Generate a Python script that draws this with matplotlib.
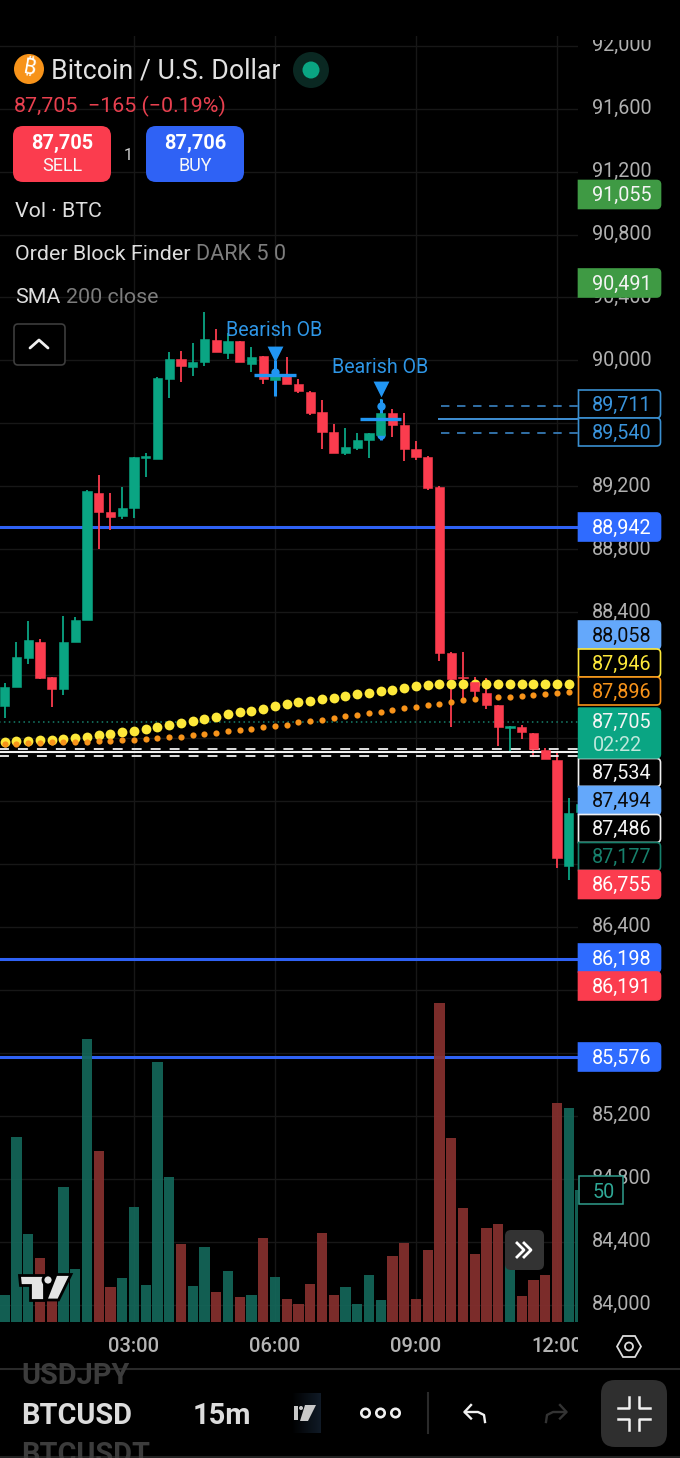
import numpy as np
import matplotlib
matplotlib.use('Agg')
import matplotlib.pyplot as plt
from matplotlib.patches import Circle, FancyBboxPatch, PathPatch, Polygon, Rectangle
from matplotlib.path import Path
from matplotlib.transforms import ScaledTranslation

plt.rcParams['font.family'] = ['Roboto', 'DejaVu Sans']

# bar 0 is 03:00, 15 minute bars
bars = np.arange(-11, 39)
opens = [87805, 87926, 88110, 88211, 87989, 87913, 88211, 88351, 89158, 89037,
         89012, 89063, 89380, 89374, 89882, 90009, 89958, 89990, 90130, 90047,
         90123, 89977, 90028, 89876, 89901, 89850, 89799, 89672, 89545, 89412,
         89444, 89494, 89526, 89666, 89590, 89437, 89386, 89196, 88142, 87989,
         87957, 87887, 87811, 87668, 87671, 87633, 87525, 87462, 86789, 87132]
highs = [87951, 88211, 88345, 88230, 87989, 88377, 88370, 89177, 89272, 89158,
         89196, 89386, 89412, 89895, 90053, 90060, 90111, 90308, 90200, 90174,
         90123, 90085, 90028, 89971, 90022, 89882, 89806, 89749, 89596, 89571,
         89539, 89539, 89755, 89691, 89666, 89488, 89393, 89202, 88148, 88148,
         87989, 87983, 87811, 87675, 87684, 87633, 87538, 87513, 87220, 87182]
lows = [87729, 87926, 88072, 87976, 87798, 87875, 88211, 88351, 88802, 88923,
        88993, 88999, 89259, 89374, 89761, 89863, 89901, 89965, 90053, 90009,
        89990, 89926, 89850, 89774, 89850, 89793, 89653, 89437, 89412, 89399,
        89431, 89380, 89494, 89514, 89361, 89367, 89177, 88091, 87671, 87824,
        87830, 87786, 87551, 87513, 87595, 87481, 87468, 86776, 86700, 87132]
closes = [87926, 88116, 88224, 87983, 87913, 88211, 88351, 89171, 89037, 89005,
          89063, 89386, 89393, 89888, 90009, 89965, 89990, 90136, 90053, 90123,
          89990, 90022, 89882, 89907, 89850, 89806, 89666, 89545, 89412, 89450,
          89494, 89539, 89666, 89590, 89437, 89386, 89190, 88142, 87976, 87983,
          87900, 87811, 87671, 87675, 87640, 87532, 87468, 86839, 87125, 87182]
volumes = [10.3, 70.4, 33.4, 24.4, 10.6, 51.3, 20.1, 107.5, 65.1, 13.3,
           16.8, 43.7, 13.9, 98.7, 55.2, 29.8, 13.6, 28.4, 11.5, 19.5,
           9.6, 10.3, 31.8, 17.2, 8.9, 6.7, 14.6, 33.8, 10.1, 13.3,
           6.7, 18.0, 8.4, 25.0, 30.1, 8.9, 27.5, 121.2, 69.9, 43.4,
           25.7, 35.8, 37.2, 25.8, 9.8, 15.8, 17.9, 83.1, 81.4, 50.0]
sma_bars = np.arange(-11, 38)
sma_yellow = [87578, 87583, 87584, 87589, 87591, 87595, 87600, 87608, 87621, 87629,
              87638, 87646, 87659, 87671, 87684, 87697, 87710, 87724, 87735, 87751,
              87765, 87775, 87786, 87803, 87816, 87828, 87837, 87847, 87858, 87868,
              87879, 87889, 87898, 87908, 87919, 87932, 87938, 87943, 87945, 87945,
              87946, 87946, 87947, 87947, 87946, 87946, 87946, 87946, 87946]
sma_orange = [87565, 87565, 87570, 87572, 87574, 87576, 87576, 87576, 87581, 87584,
              87587, 87591, 87595, 87600, 87606, 87608, 87621, 87627, 87633, 87644,
              87652, 87661, 87670, 87678, 87686, 87701, 87710, 87718, 87729, 87739,
              87750, 87758, 87769, 87779, 87790, 87799, 87809, 87818, 87828, 87843,
              87847, 87854, 87860, 87864, 87868, 87875, 87881, 87886, 87892]

price_ticks = np.arange(84000, 92001, 400)
time_ticks = [0, 12, 24, 36]
time_labels = ['03:00', '06:00', '09:00', '12:00']
blue_levels = [88942, 86198, 85576]
white_levels = [87534, 87486]
white_mid = 87510
zone_levels = [89711, 89540]
zone_mid = 89625
last_price = 87705
ob_bars = [12, 21]
ob_levels = [89907, 89625]
ob_wick_high = [90003, 89755]
ob_wick_low = [89774, 89494]
ob_arrows = [90041, 89818]
ob_dot_bars = [12, 21, 21]
ob_dot_prices = [89926, 89712, 89526]

GREEN = '#0aa583'
RED = '#fb3c4e'
BG = '#000000'
GRID = '#171717'
BLUE = '#2f62f5'
OB_BLUE = '#2196f3'

W, H = 680, 1458
fig = plt.figure(figsize=(W / 100, H / 100), dpi=100, facecolor=BG)

# main chart: x 0-578 px, y 36-1322 px
ax = fig.add_axes([0, (H - 1322) / H, 578 / W, (1322 - 36) / H])
ax.set_facecolor(BG)
ax.set_xlim(-11.4, 37.79)
ax.set_ylim(83892, 92061)
for s in ax.spines.values():
    s.set_visible(False)
ax.grid(True, color=GRID, lw=1.0, zorder=0)
ax.set_axisbelow(True)

# volume on its own scale
vol = ax.twinx()
vol.set_ylim(0, 1286 * 0.38)
vol.set_yticks([])
for s in vol.spines.values():
    s.set_visible(False)
vol.patch.set_visible(False)
ax.set_zorder(1)
vol.set_zorder(2)

ax.set_xticks(time_ticks)
ax.set_xticklabels(time_labels, fontsize=14.6, color='#b4b4b4', fontweight='medium')
ax.yaxis.tick_right()
ax.set_yticks(price_ticks)
ax.set_yticklabels([f'{p:,}' for p in price_ticks], fontsize=14.2, color='#b0b0b0', ha='left')
ax.tick_params(axis='x', length=0, pad=11)
ax.tick_params(axis='y', length=0, pad=10, labelright=True, labelleft=False)
up_shift = ScaledTranslation(0, 2.3 / 100, fig.dpi_scale_trans)
for lab in ax.get_yticklabels():
    lab.set_transform(lab.get_transform() + up_shift)

o = np.array(opens)
c = np.array(closes)
is_up = c >= o
vol.bar(bars, volumes, width=0.88, color=np.where(is_up, '#14675a', '#86302e'), alpha=0.92, zorder=4, linewidth=0)

ax.hlines(blue_levels, -12, 39, color=BLUE, lw=2.2, zorder=3)
ax.hlines(last_price, -12, 39, color='#17806c', lw=1.1, linestyles=(0, (1, 2.2)), zorder=2)
ax.hlines(white_mid, -12, 39, color='#f2f2f2', lw=1.5, zorder=6)
ax.hlines(white_levels, -12, 39, color='#f2f2f2', lw=1.3, linestyles=(0, (5.5, 5)), zorder=6)
ax.hlines(zone_levels, 26.1, 39, color='#3f8fd4', lw=1.1, linestyles=(0, (5.5, 5)), zorder=3)
ax.hlines(zone_mid, 25.9, 39, color='#3f8fd4', lw=1.4, zorder=3)

ax.scatter(sma_bars, sma_yellow, s=50, color='#fde83a', linewidths=0, zorder=6)
ax.scatter(sma_bars, sma_orange, s=20, color='#f7931a', linewidths=0, zorder=7)

wick_colors = [GREEN if u else RED for u in is_up]
ax.vlines(bars, lows, highs, colors=wick_colors, lw=1.3, zorder=5)
ax.bar(bars, np.abs(c - o), bottom=np.minimum(o, c), width=0.78, color=wick_colors,
       edgecolor=wick_colors, linewidth=0.4, zorder=8)

# order block marks
ax.vlines(ob_bars, ob_wick_low, ob_wick_high, color=OB_BLUE, lw=2.2, zorder=7)
ax.scatter(ob_dot_bars, ob_dot_prices, s=36, color=OB_BLUE, linewidths=0, zorder=7)
ax.scatter(ob_bars, ob_arrows, s=130, marker='v', color=OB_BLUE, linewidths=0, zorder=9)
for b, lev in zip(ob_bars, ob_levels):
    ax.hlines(lev, b - 1.75, b + 1.75, color=OB_BLUE, lw=2.4, zorder=9)
ax.text(ob_bars[0] - 0.05, 90188, 'Bearish OB', color='#2e96e6', fontsize=14.1, ha='center', va='center', zorder=10)
ax.text(ob_bars[1] - 0.05, 89955, 'Bearish OB', color='#2e96e6', fontsize=14.1, ha='center', va='center', zorder=10)

# screen furniture, in pixels
ui = fig.add_axes([0, 0, 1, 1], zorder=5)
ui.set_xlim(0, W)
ui.set_ylim(H, 0)
ui.axis('off')
ui.patch.set_visible(False)


def tag_shape(x0, y0, x1, y1, r=4):
    verts = [(x0, y0), (x1 - r, y0), (x1, y0), (x1, y0 + r), (x1, y1 - r), (x1, y1), (x1 - r, y1), (x0, y1), (x0, y0)]
    codes = [Path.MOVETO, Path.LINETO, Path.CURVE3, Path.CURVE3, Path.LINETO, Path.CURVE3, Path.CURVE3, Path.LINETO, Path.CLOSEPOLY]
    return Path(verts, codes)


def tag(text, yc, fill, edge, color):
    ui.add_patch(PathPatch(tag_shape(578.5, yc - 14, 660.5, yc + 14), facecolor=fill, edgecolor=edge, lw=1.2, zorder=3))
    ui.text(622, yc + 1, text, color=color, fontsize=14.2, ha='center', va='center', zorder=4)


tags = [
    ('91,055', 194.5, '#3f9a44', '#3f9a44', '#f4f4f4'),
    ('90,491', 283, '#3f9a44', '#3f9a44', '#f4f4f4'),
    ('89,711', 404, BG, '#3a8fd0', '#3a94dc'),
    ('89,540', 432, BG, '#3a8fd0', '#3a94dc'),
    ('88,942', 527, '#2f6bff', '#2f6bff', '#ffffff'),
    ('88,058', 635, '#64a8fb', '#64a8fb', '#0a0a0a'),
    ('87,946', 663, BG, '#fde83a', '#fde83a'),
    ('87,896', 691, BG, '#f7931a', '#f7931a'),
    ('87,534', 772.5, BG, '#f0f0f0', '#f4f4f4'),
    ('87,494', 800.5, '#64a8fb', '#64a8fb', '#0a0a0a'),
    ('87,486', 828.5, BG, '#f0f0f0', '#f4f4f4'),
    ('87,177', 856.5, BG, '#17806c', '#17806c'),
    ('86,755', 884.5, RED, RED, '#ffffff'),
    ('86,198', 958, '#2f6bff', '#2f6bff', '#ffffff'),
    ('86,191', 986, RED, RED, '#ffffff'),
    ('85,576', 1057, '#2f6bff', '#2f6bff', '#ffffff'),
]
for t in tags:
    tag(*t)

# last price tag is taller, with the countdown
ui.add_patch(PathPatch(tag_shape(578.5, 708, 660.5, 758), facecolor=GREEN, edgecolor=GREEN, lw=1, zorder=3))
ui.text(622, 722, '87,705', color='#f4f4f4', fontsize=14.2, ha='center', va='center', zorder=4)
ui.text(617, 745, '02:22', color='#bfe8dc', fontsize=14.2, ha='center', va='center', zorder=4)

# volume tag
ui.add_patch(Rectangle((578.5, 1176), 44.5, 28, facecolor=BG, edgecolor='#2f9d8c', lw=1.1, zorder=3))
ui.text(604, 1192, '50', color='#2fa896', fontsize=14.2, ha='center', va='center', zorder=4)

# cover the top of the price axis and the cut off 12:00
ui.add_patch(Rectangle((578, 0), 102, 40, facecolor=BG, edgecolor='none', zorder=2))
ui.add_patch(Rectangle((578, 1330), 35, 30, facecolor=BG, edgecolor='none', zorder=2))

# header
ui.add_patch(Circle((29, 69), 15, facecolor='#f7931a', edgecolor='none'))
ui.text(29, 69, '\u20bf', color='white', fontsize=16, fontweight='bold', ha='center', va='center', rotation=-10,
        family=['Noto Sans', 'Inter', 'Open Sans', 'Lato', 'DejaVu Sans'])
ui.text(51, 71, 'Bitcoin / U.S. Dollar', color='#e2e2e2', fontsize=19.2, ha='left', va='center')
ui.add_patch(Circle((311, 70), 18, facecolor='#0a2822', edgecolor='none'))
ui.add_patch(Circle((311, 70), 8.5, facecolor=GREEN, edgecolor='none'))
ui.text(14, 106, '87,705', color='#e8404f', fontsize=15.4, ha='left', va='center')
ui.text(88, 106, '\u2212165 (\u22120.19%)', color='#e8404f', fontsize=15.4, ha='left', va='center')

for x0, fill, price, side in [(13, '#fb3c4e', '87,705', 'SELL'), (146, '#2f62f5', '87,706', 'BUY')]:
    ui.add_patch(FancyBboxPatch((x0 + 10, 136), 78, 36, boxstyle='round,pad=10,rounding_size=10', facecolor=fill, edgecolor='none'))
    ui.text(x0 + 49, 143, price, color='white', fontsize=14.4, fontweight='bold', ha='center', va='center')
    ui.text(x0 + 49, 166, side, color='#f8f8f8', fontsize=13, ha='center', va='center')
ui.text(128, 155, '1', color='#cfcfcf', fontsize=11.5, ha='center', va='center')

ui.text(15, 211, 'Vol \u00b7 BTC', color='#dedede', fontsize=15.4, ha='left', va='center')
ui.text(15, 254, 'Order Block Finder', color='#dedede', fontsize=15.4, ha='left', va='center')
ui.text(196, 254, 'DARK 5 0', color='#7d7d7d', fontsize=15.6, ha='left', va='center')
ui.text(15, 297, 'SMA', color='#dedede', fontsize=15.4, ha='left', va='center')
ui.text(66, 297, '200 close', color='#7d7d7d', fontsize=15.4, ha='left', va='center')

ui.add_patch(FancyBboxPatch((19, 329), 41, 31, boxstyle='round,pad=5,rounding_size=4', facecolor=BG, edgecolor='#3d3d3d', lw=1.2))
ui.plot([30, 39, 48], [348, 340, 348], color='#efefef', lw=2, solid_capstyle='round')

# TV logo
logo_edge = dict(facecolor='#e4e4e4', edgecolor='#000000', lw=2, zorder=6)
ui.add_patch(Polygon([(18.5, 1274.5), (43.5, 1274.5), (43.5, 1300), (30, 1300), (30, 1285), (20, 1285)], **logo_edge))
ui.add_patch(Circle((48, 1280), 5, **logo_edge))
ui.add_patch(Polygon([(56, 1274.5), (71, 1274.5), (58.5, 1300), (46, 1300)], **logo_edge))

# scroll to the latest button
ui.add_patch(FancyBboxPatch((511, 1236), 27, 28, boxstyle='round,pad=6,rounding_size=6', facecolor='#333333', edgecolor='none', zorder=6))
ui.plot([517, 524, 517], [1243, 1250, 1257], color='white', lw=2, zorder=7)
ui.plot([524, 531, 524], [1243, 1250, 1257], color='white', lw=2, zorder=7)

# bottom bar
ui.plot([0, 680], [1368.5, 1368.5], color='#2a2a2a', lw=1.5)
ui.plot([0, 680], [1456.5, 1456.5], color='#222222', lw=1.5)
hexagon = Polygon([(617, 1346.5), (623, 1336), (635, 1336), (641, 1346.5), (635, 1357), (623, 1357)], fill=False, edgecolor='#dddddd', lw=1.3)
ui.add_patch(hexagon)
ui.add_patch(Circle((629, 1346.5), 4, fill=False, edgecolor='#dddddd', lw=1.3))

top_clip = Rectangle((0, 1370), 300, 86, transform=ui.transData)
for label, y, col in [('USDJPY', 1376, '#3c3c3c'), ('BTCUSD', 1416, '#dcdcdc'), ('BTCUSDT', 1455, '#3c3c3c')]:
    t = ui.text(21, y, label, color=col, fontsize=20.8, fontweight='bold', ha='left', va='center')
    t.set_clip_path(top_clip)
ui.text(193, 1416, '15m', color='#dcdcdc', fontsize=21, fontweight='bold', ha='left', va='center')

# favourite tile, fades in from the left
fade = np.zeros((1, 16, 3))
fade[0, :, 0] = np.linspace(0, 0x10 / 255, 16)
fade[0, :, 1] = np.linspace(0, 0x1a / 255, 16)
fade[0, :, 2] = np.linspace(0, 0x26 / 255, 16)
ui.imshow(fade, extent=(291, 321, 1433, 1393), aspect='auto', zorder=1)
ui.set_xlim(0, W)
ui.set_ylim(H, 0)
ui.add_patch(Rectangle((294, 1406), 4, 14, facecolor='#c8c8c8', edgecolor='none', zorder=2))
ui.add_patch(Circle((301, 1408), 2, facecolor='#c8c8c8', edgecolor='none', zorder=2))
ui.add_patch(Polygon([(305, 1405), (316, 1405), (308, 1421), (300, 1421)], facecolor='#c8c8c8', edgecolor='none', zorder=2))

for cx in [365.5, 380.5, 395.5]:
    ui.add_patch(Circle((cx, 1413), 4.2, fill=False, edgecolor='#f0f0f0', lw=1.9))
ui.plot([428, 428], [1393, 1433], color='#2a2a2a', lw=1.5)

# undo and redo
ui.plot([471, 464.5, 471], [1405, 1412, 1418.5], color='#f0f0f0', lw=1.7)
ui.plot([465, 478, 484, 485], [1412, 1412, 1415, 1422], color='#f0f0f0', lw=1.7)
ui.plot([560, 566.5, 560], [1405, 1412, 1418.5], color='#333333', lw=1.7)
ui.plot([566, 553, 547, 546], [1412, 1412, 1415, 1422], color='#333333', lw=1.7)

# fullscreen button
ui.add_patch(FancyBboxPatch((615, 1394), 38, 39, boxstyle='round,pad=14,rounding_size=14', facecolor='#2f2f2f', edgecolor='none'))
for xs, ys in [([618, 629, 629], [1408, 1408, 1397]), ([650, 639, 639], [1408, 1408, 1397]),
               ([618, 629, 629], [1419, 1419, 1430]), ([650, 639, 639], [1419, 1419, 1430])]:
    ui.plot(xs, ys, color='#f0f0f0', lw=1.8)

fig.savefig('out.png', dpi=100, facecolor=BG)
